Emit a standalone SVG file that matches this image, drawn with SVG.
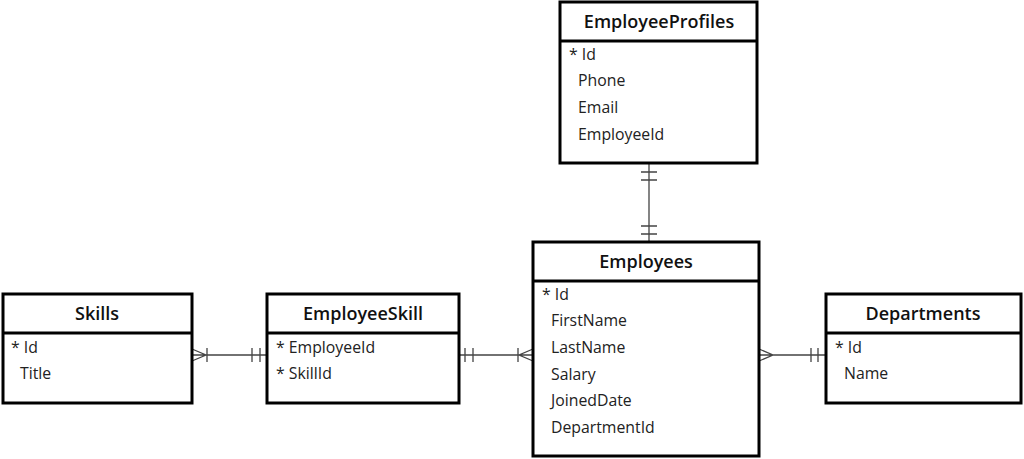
<svg xmlns="http://www.w3.org/2000/svg" width="1024" height="459" viewBox="0 0 1024 459">
<style>
.box{fill:#fff;stroke:#000;stroke-width:3}
.hd{stroke:#000;stroke-width:3}
.title{font-family:"Open Sans","Noto Sans",sans-serif;font-size:18px;font-weight:600;fill:#111;text-anchor:middle}
.f{font-family:"Open Sans","Noto Sans",sans-serif;font-size:15.8px;fill:#222}
.c{stroke:#444;stroke-width:1.3;fill:none}
</style>
<rect width="1024" height="459" fill="#fff"/>
<g id="connectors">
  <!-- EmployeeProfiles - Employees -->
  <path class="c" d="M649 163V241 M641 172H657 M641 180H657 M641 226H657 M641 234H657"/>
  <!-- Skills - EmployeeSkill -->
  <path class="c" d="M192 355H267 M192 349L206 355L192 361 M207 348V362 M252 348V362 M260 348V362"/>
  <!-- EmployeeSkill - Employees -->
  <path class="c" d="M459 355H533 M465 348V362 M473 348V362 M533 349L519 355L533 361 M518 348V362"/>
  <!-- Employees - Departments -->
  <path class="c" d="M759 355H826 M759 349L773 355L759 361 M811 348V362 M818 348V362"/>
</g>
<g id="EmployeeProfiles">
  <rect class="box" x="560" y="2" width="197" height="161"/>
  <line class="hd" x1="560" y1="41" x2="757" y2="41"/>
  <text class="title" x="659" y="28">EmployeeProfiles</text>
  <text class="f" x="569" y="60">* Id</text>
  <text class="f" x="578" y="86">Phone</text>
  <text class="f" x="578" y="113">Email</text>
  <text class="f" x="578" y="140">EmployeeId</text>
</g>
<g id="Employees">
  <rect class="box" x="533" y="242" width="226" height="214"/>
  <line class="hd" x1="533" y1="281" x2="759" y2="281"/>
  <text class="title" x="646" y="268">Employees</text>
  <text class="f" x="542" y="300">* Id</text>
  <text class="f" x="551" y="326">FirstName</text>
  <text class="f" x="551" y="353">LastName</text>
  <text class="f" x="551" y="380">Salary</text>
  <text class="f" x="551" y="406">JoinedDate</text>
  <text class="f" x="551" y="433">DepartmentId</text>
</g>
<g id="Skills">
  <rect class="box" x="3" y="294" width="189" height="109"/>
  <line class="hd" x1="3" y1="333" x2="192" y2="333"/>
  <text class="title" x="97" y="320">Skills</text>
  <text class="f" x="11" y="353">* Id</text>
  <text class="f" x="20" y="379">Title</text>
</g>
<g id="EmployeeSkill">
  <rect class="box" x="267" y="294" width="192" height="109"/>
  <line class="hd" x1="267" y1="333" x2="459" y2="333"/>
  <text class="title" x="363" y="320">EmployeeSkill</text>
  <text class="f" x="276" y="353">* EmployeeId</text>
  <text class="f" x="276" y="379">* SkillId</text>
</g>
<g id="Departments">
  <rect class="box" x="826" y="294" width="195" height="109"/>
  <line class="hd" x1="826" y1="333" x2="1021" y2="333"/>
  <text class="title" x="923" y="320">Departments</text>
  <text class="f" x="835" y="353">* Id</text>
  <text class="f" x="844" y="379">Name</text>
</g>
</svg>
